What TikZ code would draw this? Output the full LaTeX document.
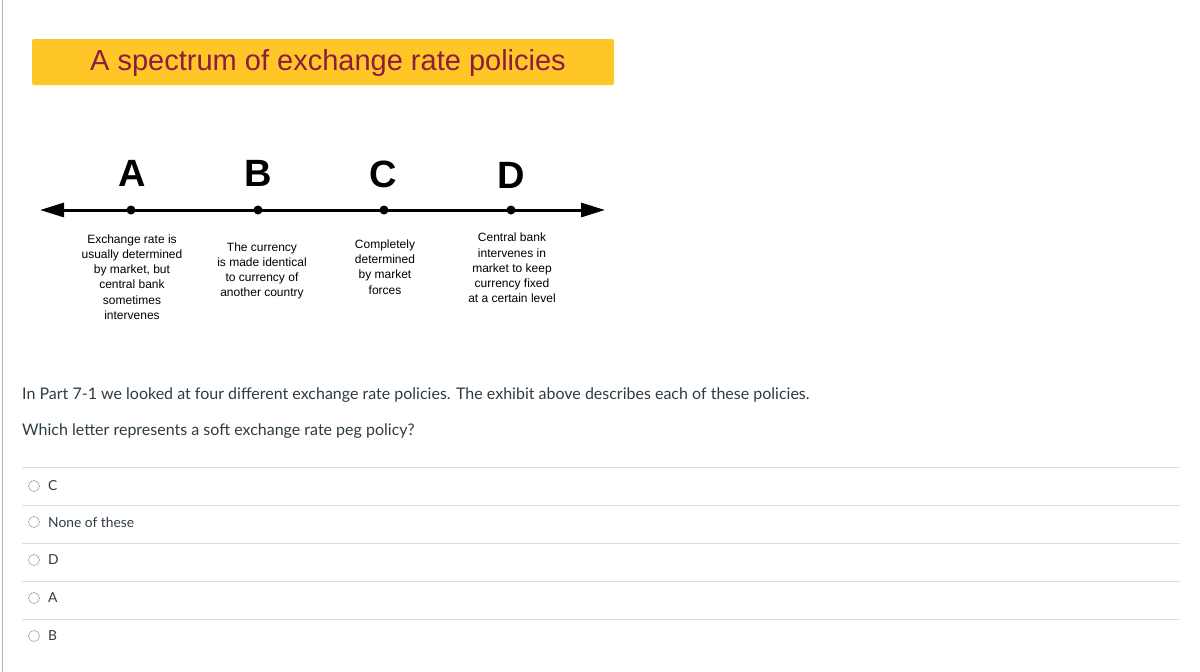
\documentclass[tikz,border=0pt]{standalone}
\usepackage{fontspec}
\setmainfont{Liberation Sans}
\newfontfamily\latofont{Lato}
\usetikzlibrary{arrows.meta,positioning}
\definecolor{asugold}{HTML}{FFC627}
\definecolor{asumaroon}{HTML}{8C1D40}
\definecolor{quiztext}{HTML}{2D3B45}
\definecolor{rulegray}{HTML}{DDDDDD}

\begin{document}
\begin{tikzpicture}[
      x=1pt, y=-1pt, >={Triangle[length=24pt,width=14pt]},
      banner/.style={fill=asugold,rounded corners=2pt},
      title/.style={inner sep=0pt,text=asumaroon,font=\fontsize{29}{34}\selectfont},
      letter/.style={anchor=base,inner sep=0pt,font=\fontsize{38}{40}\selectfont\bfseries},
      dot/.style={circle,fill=black,inner sep=0pt,minimum size=9pt},
      desc/.style={align=center,inner sep=0pt,font=\fontsize{12}{15.2}\selectfont},
      quiz/.style={anchor=west,inner sep=0pt,text=quiztext,font=\latofont\fontsize{16}{19}\selectfont},
      option/.style={anchor=west,inner sep=0pt,text=quiztext,font=\latofont\fontsize{13.8}{16}\selectfont},
      radio/.style={circle,draw=gray,minimum size=11pt,inner sep=0pt}
  ]
      \useasboundingbox (0,0) rectangle (1200,672);
      \draw[gray!60] (2,0) -- (2,672);

      % title
      \fill[banner] (32,39) rectangle (614,85);
      \node[title] (head) at (328,63) {A spectrum of exchange rate policies};

      % axis with the four policies
      \coordinate (west) at (40,210);
      \coordinate (east) at (605,210);
      \draw[<->,line width=3pt] (west) -- (east);

      \node[dot] (pA) at (131,210) {};
      \node[dot] (pB) at (258,210) {};
      \node[dot] (pC) at (384,210) {};
      \node[dot] (pD) at (511,210) {};

      \node[letter] (lA) at (132,186) {A};
      \node[letter] (lB) at (258,186) {B};
      \node[letter] (lC) at (383,187) {C};
      \node[letter] (lD) at (511,188) {D};

      \node[desc] (dA) at (132,277) {Exchange rate is\\usually determined\\by market, but\\central bank\\sometimes\\intervenes};
      \node[desc] (dB) at (262,271) {The currency\\is made identical\\to currency of\\another country};
      \node[desc] (dC) at (385,267) {Completely\\determined\\by market\\forces};
      \node[desc] (dD) at (512,268) {Central bank\\intervenes in\\market to keep\\currency fixed\\at a certain level};

      % question
      \node[quiz] (intro) at (22,395) {In Part 7-1 we looked at four different exchange rate policies. The exhibit above describes each of these policies.};
      \node[quiz] (ask) at (22,431) {Which letter represents a soft exchange rate peg policy?};

      % answers
      \draw[rulegray] (22,467) -- (1180,467);
      \draw[rulegray] (22,505) -- (1180,505);
      \draw[rulegray] (22,543) -- (1180,543);
      \draw[rulegray] (22,581) -- (1180,581);
      \draw[rulegray] (22,619) -- (1180,619);

      \node[radio] (r1) at (34,486) {};
      \node[radio] (r2) at (34,522) {};
      \node[radio] (r3) at (34,560) {};
      \node[radio] (r4) at (34,598) {};
      \node[radio] (r5) at (34,636) {};

      \node[option] (o1) at (48,486) {C};
      \node[option] (o2) at (48,522) {None of these};
      \node[option] (o3) at (48,560) {D};
      \node[option] (o4) at (48,598) {A};
      \node[option] (o5) at (48,636) {B};
  \end{tikzpicture}
\end{document}
